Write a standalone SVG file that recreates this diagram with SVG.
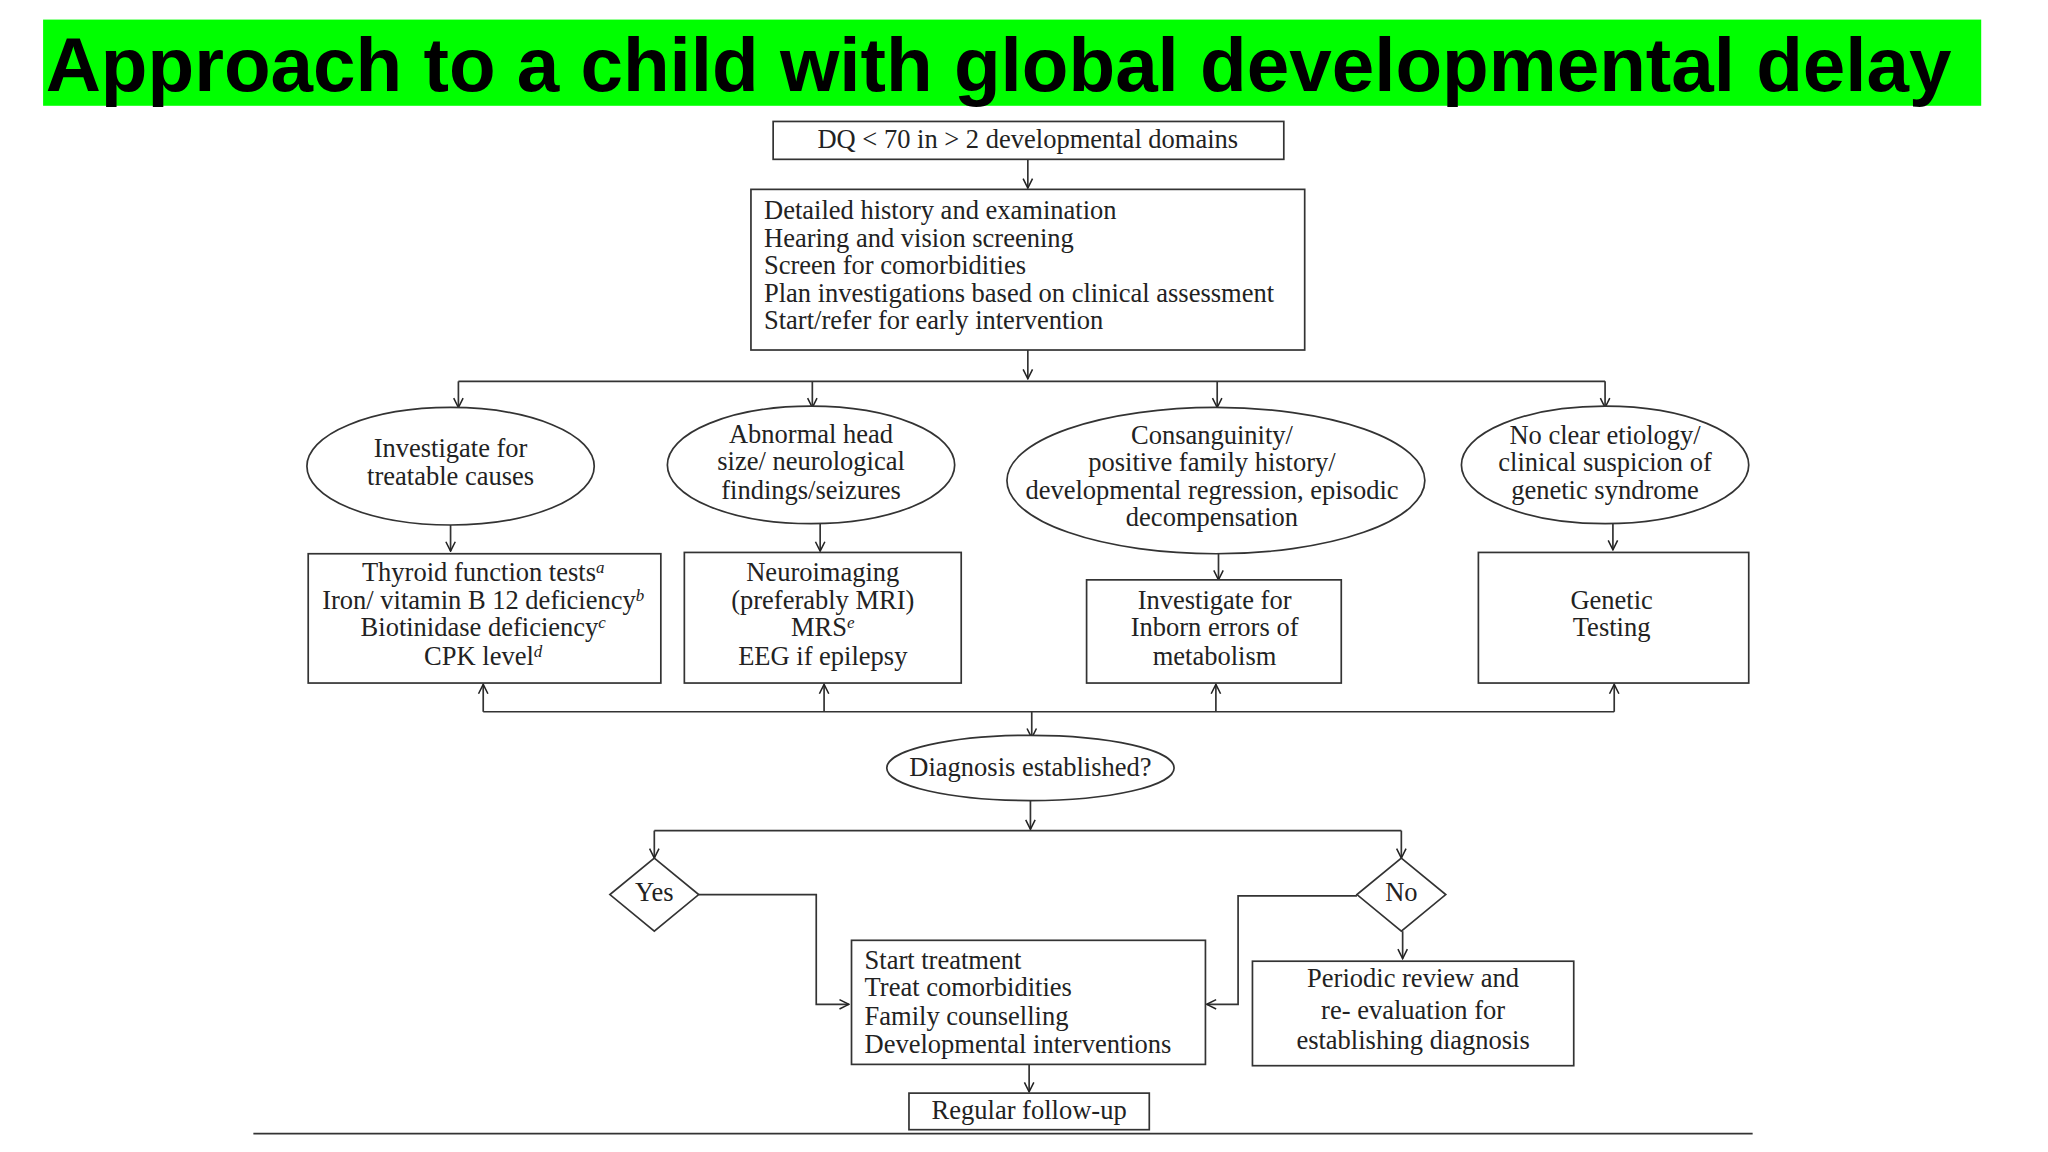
<svg xmlns="http://www.w3.org/2000/svg" width="2048" height="1152" viewBox="0 0 2048 1152">
<defs>
<marker id="ah" viewBox="0 0 10 10" refX="9" refY="5" markerWidth="9" markerHeight="9" markerUnits="userSpaceOnUse" orient="auto"><path d="M1,1 L9,5 L1,9" fill="none" stroke="#222" stroke-width="1.3"/></marker>
<style>
.b{fill:#fff;stroke:#333;stroke-width:1.3}
.t{font-family:"Liberation Serif",serif;font-size:20.3px;fill:#222}
.c{text-anchor:middle}
.l{fill:none;stroke:#333;stroke-width:1.3}
.a{fill:none;stroke:#333;stroke-width:1.3;marker-end:url(#ah)}
</style>
</defs>
<rect width="2048" height="1152" fill="#fff"/>
<g transform="scale(1.306)">
<g id="title"><rect x="33" y="15" width="1484" height="66" fill="#00ff00"/>
<text x="35" y="70" font-family="Liberation Sans,Arial,sans-serif" font-weight="bold" font-size="58.5" fill="#000">Approach to a child with global developmental delay</text></g>
<g id="connectors">
<path class="a" d="M787,122V144"/>
<path class="a" d="M787,268V290"/>
<path class="l" d="M351,292H1229"/>
<path class="a" d="M351,292V312"/><path class="a" d="M622,292V312"/><path class="a" d="M932,292V312"/><path class="a" d="M1229,292V312"/>
<path class="a" d="M345,402V422"/><path class="a" d="M628,400V422"/><path class="a" d="M933,424V444"/><path class="a" d="M1235,400V421"/>
<path class="l" d="M370,545H1236"/>
<path class="a" d="M370,545V524"/><path class="a" d="M631,545V524"/><path class="a" d="M931,545V524"/><path class="a" d="M1236,545V524"/>
<path class="a" d="M790,545V565"/>
<path class="a" d="M789,613V635"/>
<path class="l" d="M501,636H1073"/>
<path class="a" d="M501,636V657"/><path class="a" d="M1073,636V657"/>
<path class="a" d="M535,685H625V769H650"/>
<path class="a" d="M1039,686H948V769H924"/>
<path class="a" d="M1074,713V734"/>
<path class="a" d="M788,815V836"/>
<path class="l" d="M194,868H1342"/>
</g>
<g id="n1"><rect class="b" x="592" y="93" width="391" height="29"/><text class="t c" x="787" y="113">DQ &lt; 70 in &gt; 2 developmental domains</text></g>
<g id="n2"><rect class="b" x="575" y="145" width="424" height="123"/>
<text class="t" x="585" y="168">Detailed history and examination</text>
<text class="t" x="585" y="189">Hearing and vision screening</text>
<text class="t" x="585" y="210">Screen for comorbidities</text>
<text class="t" x="585" y="231">Plan investigations based on clinical assessment</text>
<text class="t" x="585" y="252">Start/refer for early intervention</text></g>
<g id="e1"><ellipse class="b" cx="345" cy="357" rx="110" ry="45"/><text class="t c" x="345" y="350">Investigate for</text><text class="t c" x="345" y="371">treatable causes</text></g>
<g id="e2"><ellipse class="b" cx="621" cy="356" rx="110" ry="45"/><text class="t c" x="621" y="339">Abnormal head</text><text class="t c" x="621" y="360">size/ neurological</text><text class="t c" x="621" y="382">findings/seizures</text></g>
<g id="e3"><ellipse class="b" cx="931" cy="368" rx="160" ry="56"/><text class="t c" x="928" y="340">Consanguinity/</text><text class="t c" x="928" y="361">positive family history/</text><text class="t c" x="928" y="382">developmental regression, episodic</text><text class="t c" x="928" y="403">decompensation</text></g>
<g id="e4"><ellipse class="b" cx="1229" cy="356" rx="110" ry="45"/><text class="t c" x="1229" y="340">No clear etiology/</text><text class="t c" x="1229" y="361">clinical suspicion of</text><text class="t c" x="1229" y="382">genetic syndrome</text></g>
<g id="b1"><rect class="b" x="236" y="424" width="270" height="99"/>
<text class="t c" x="370" y="445">Thyroid function tests<tspan font-style="italic" font-size="13" dy="-6">a</tspan></text>
<text class="t c" x="370" y="466">Iron/ vitamin B 12 deficiency<tspan font-style="italic" font-size="13" dy="-6">b</tspan></text>
<text class="t c" x="370" y="487">Biotinidase deficiency<tspan font-style="italic" font-size="13" dy="-6">c</tspan></text>
<text class="t c" x="370" y="509">CPK level<tspan font-style="italic" font-size="13" dy="-6">d</tspan></text></g>
<g id="b2"><rect class="b" x="524" y="423" width="212" height="100"/>
<text class="t c" x="630" y="445">Neuroimaging</text><text class="t c" x="630" y="466">(preferably MRI)</text>
<text class="t c" x="630" y="487">MRS<tspan font-style="italic" font-size="13" dy="-6">e</tspan></text><text class="t c" x="630" y="509">EEG if epilepsy</text></g>
<g id="b3"><rect class="b" x="832" y="444" width="195" height="79"/>
<text class="t c" x="930" y="466">Investigate for</text><text class="t c" x="930" y="487">Inborn errors of</text><text class="t c" x="930" y="509">metabolism</text></g>
<g id="b4"><rect class="b" x="1132" y="423" width="207" height="100"/>
<text class="t c" x="1234" y="466">Genetic</text><text class="t c" x="1234" y="487">Testing</text></g>
<g id="d0"><ellipse class="b" cx="789" cy="588" rx="110" ry="25"/><text class="t c" x="789" y="594">Diagnosis established?</text></g>
<g id="yes"><path class="b" d="M501,657L535,685L501,713L467,685Z"/><text class="t c" x="501" y="690">Yes</text></g>
<g id="no"><path class="b" d="M1073,657L1107,685L1073,713L1039,685Z"/><text class="t c" x="1073" y="690">No</text></g>
<g id="treat"><rect class="b" x="652" y="720" width="271" height="95"/>
<text class="t" x="662" y="742">Start treatment</text><text class="t" x="662" y="763">Treat comorbidities</text>
<text class="t" x="662" y="785">Family counselling</text><text class="t" x="662" y="806">Developmental interventions</text></g>
<g id="review"><rect class="b" x="959" y="736" width="246" height="80"/>
<text class="t c" x="1082" y="756" font-size="21.5">Periodic review and</text><text class="t c" x="1082" y="780" font-size="21.5">re- evaluation for</text><text class="t c" x="1082" y="803" font-size="21.5">establishing  diagnosis</text></g>
<g id="follow"><rect class="b" x="696" y="837" width="184" height="28"/><text class="t c" x="788" y="857">Regular follow-up</text></g>
</g>
</svg>
